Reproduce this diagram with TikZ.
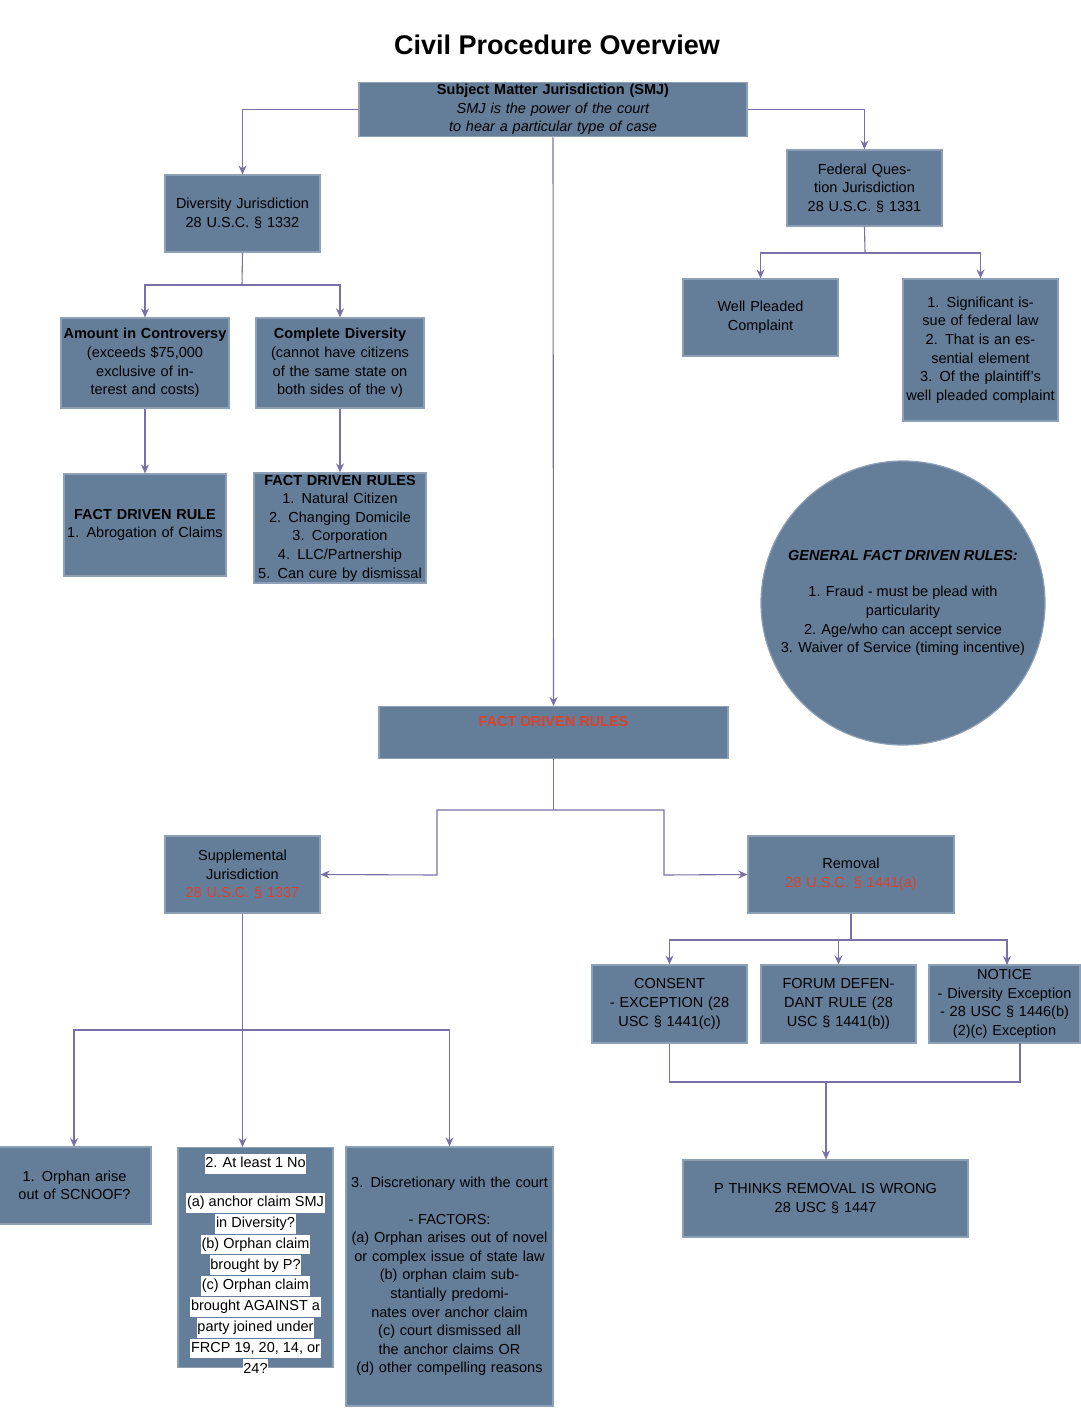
\documentclass[tikz,border=0pt]{standalone}
\usepackage{fontspec}
\setmainfont{Liberation Sans}
\usetikzlibrary{arrows.meta}
\definecolor{bx}{HTML}{647D99}
\definecolor{bd}{HTML}{8EA0B6}
\definecolor{ln}{HTML}{7A70A8}
\definecolor{rd}{HTML}{D9432E}
\newcommand{\hlw}[1]{{\setlength{\fboxsep}{0.6pt}\colorbox{white}{\strut #1}}}
\begin{document}
\begin{tikzpicture}[x=1pt,y=-1pt,
 box/.style={draw=bd,line width=1.2pt,fill=bx,align=center,inner sep=2pt,font=\fontsize{14.5}{18.6}\selectfont},
 con/.style={draw=ln,line width=1.1pt},
 arr/.style={con,-{Stealth[length=9pt,width=8pt]}}]
\useasboundingbox (0,0) rectangle (1080,1420);
\node[font=\fontsize{27}{32}\selectfont\bfseries] (title) at (557,45) {Civil Procedure Overview};
\newcommand{\bxx}[6]{\node[box,minimum width=#3-#2,minimum height=#5-#4,text width=#3-#2-4] (#1) at ({(#2+#3)/2},{(#4+#5)/2}) {#6};}
\bxx{smj}{359}{747}{84}{135}{\textbf{Subject Matter Jurisdiction (SMJ)}\\\textit{SMJ is the power of the court to hear a particular type of case}}
\bxx{div}{165}{320}{175}{252}{Diversity Jurisdiction\\28 U.S.C. § 1332}
\bxx{fed}{787}{942}{150}{226}{Federal Question Jurisdiction\\28 U.S.C. § 1331}
\bxx{amt}{61}{229}{318}{408}{\textbf{Amount in Controversy}\\(exceeds \$75,000 exclusive of interest and costs)}
\bxx{cmp}{256}{424}{318}{408}{\textbf{Complete Diversity}\\(cannot have citizens of the same state on both sides of the v)}
\bxx{fdl}{64}{226}{474}{576}{\textbf{FACT DRIVEN RULE}\\1. Abrogation of Claims}
\bxx{fdr}{254}{426}{473}{583}{\textbf{FACT DRIVEN RULES}\\1. Natural Citizen\\2. Changing Domicile\\3. Corporation\\4. LLC/Partnership\\5. Can cure by dismissal}
\bxx{wpc}{683}{838}{279}{356}{Well Pleaded Complaint}
\bxx{sig}{903}{1058}{279}{421}{1. Significant issue of federal law\\2. That is an essential element\\3. Of the plaintiff's well pleaded complaint}
\node[circle,draw=bd,line width=1.2pt,fill=bx,minimum size=284pt,align=center,font=\fontsize{14.5}{18.6}\selectfont] (gen) at (903,603) {\textbf{\textit{GENERAL FACT DRIVEN RULES:}}\\[18pt]1. Fraud - must be plead with\\particularity\\2. Age/who can accept service\\3. Waiver of Service (timing incentive)};
\node[box,minimum width=349,minimum height=52,anchor=north] (fdm) at (553.5,706) {};
\node[font=\fontsize{14.5}{18}\selectfont\bfseries,text=rd] (fdmt) at (553.5,722) {FACT DRIVEN RULES};
\bxx{sup}{165}{320}{836}{913}{Supplemental Jurisdiction\\\textcolor{rd}{28 U.S.C. § 1337}}
\bxx{rem}{748}{954}{836}{913}{Removal\\\textcolor{rd}{28 U.S.C. § 1441(a)}}
\bxx{cons}{592}{747}{965}{1043}{CONSENT\\- EXCEPTION (28 USC § 1441(c))}
\bxx{for}{761}{916}{965}{1043}{FORUM DEFENDANT RULE (28 USC § 1441(b))}
\bxx{not}{929}{1080}{965}{1043}{NOTICE\\- Diversity Exception - 28 USC § 1446(b) (2)(c) Exception}
\bxx{pth}{683}{968}{1160}{1237}{P THINKS REMOVAL IS WRONG\\28 USC § 1447}
\bxx{orp}{-2}{151}{1147}{1224}{1. Orphan arise out of SCNOOF?}
\node[box,minimum width=155,minimum height=220,anchor=north] (atl) at (255.5,1147) {};
\node[align=center,inner sep=0pt,anchor=north,font=\fontsize{14.5}{18.6}\selectfont] (atlt) at (255.5,1154) {\hlw{2. At least 1 No}\\[18pt]\hlw{(a) anchor claim SMJ}\\\hlw{in Diversity?}\\\hlw{(b) Orphan claim}\\\hlw{brought by P?}\\\hlw{(c) Orphan claim}\\\hlw{brought AGAINST a}\\\hlw{party joined under}\\\hlw{FRCP 19, 20, 14, or}\\\hlw{24?}};
\bxx{dis}{346}{553}{1147}{1406}{3. Discretionary with the court\\[18pt]- FACTORS:\\(a) Orphan arises out of novel or complex issue of state law\\(b) orphan claim substantially predominates over anchor claim\\(c) court dismissed all the anchor claims OR\\(d) other compelling reasons}
% connectors
\draw[arr] (smj.west) -| (div.north);
\draw[arr] (smj.east) -| (fed.north);
\draw[arr] (smj.south) -- (fdm.north);
\coordinate (d1) at (242,285);
\draw[con] (div.south) -- (d1);
\draw[arr] (d1) -| (amt.north);
\draw[arr] (d1) -| (cmp.north);
\draw[arr] (amt.south) -- (fdl.north);
\draw[arr] (cmp.south) -- (fdr.north);
\coordinate (f1) at (865,253);
\draw[con] (fed.south) -- (f1);
\draw[arr] (f1) -| (wpc.north);
\draw[arr] (f1) -| (sig.north);
\coordinate (m1) at (553.5,810);
\draw[con] (fdm.south) -- (m1);
\draw[arr] (m1) -| (437,875) -- (sup.east);
\draw[arr] (m1) -| (664,875) -- (rem.west);
\coordinate (s1) at (242.5,1030);
\draw[con] (sup.south) -- (s1);
\draw[arr] (s1) -| (74,1147);
\draw[arr] (s1) -- (atl.north -| s1);
\draw[arr] (s1) -| (dis.north);
\coordinate (r1) at (851,940);
\draw[con] (rem.south) -- (r1);
\draw[arr] (r1) -| (cons.north);
\draw[arr] (r1) -| (for.north);
\draw[arr] (r1) -| (1007,965);
\coordinate (b1) at (826,1082);
\draw[con] (cons.south) |- (b1) -| (1020,1043);
\draw[arr] (b1) -- (pth.north -| b1);
\end{tikzpicture}
\end{document}
